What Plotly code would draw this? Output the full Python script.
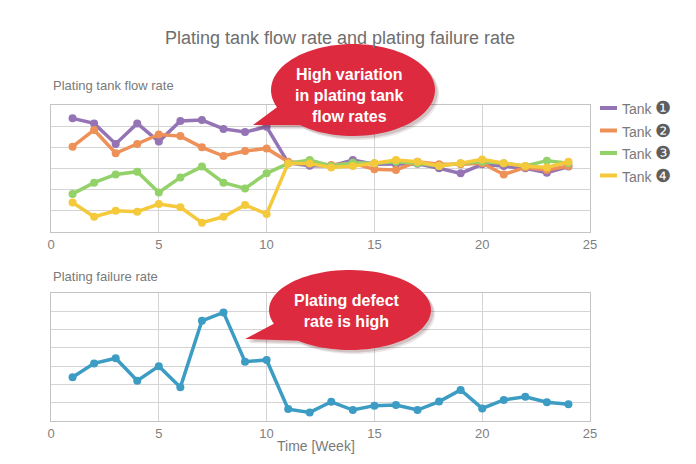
import numpy as np
import plotly.graph_objects as go

# ---------------- data ----------------
weeks = list(range(1, 25))
tank1 = [5.37, 5.13, 4.16, 5.13, 4.27, 5.24, 5.29, 4.87, 4.72, 4.97, 3.27, 3.13,
         3.12, 3.40, 3.20, 3.20, 3.22, 3.01, 2.77, 3.20, 3.12, 3.01, 2.80, 3.09]
tank2 = [4.03, 4.82, 3.72, 4.16, 4.61, 4.53, 4.00, 3.59, 3.83, 3.95, 3.32, 3.25,
         3.17, 3.25, 2.96, 2.93, 3.32, 3.20, 3.20, 3.25, 2.72, 3.05, 2.93, 3.12]
tank3 = [1.80, 2.33, 2.72, 2.85, 1.87, 2.58, 3.09, 2.33, 2.06, 2.77, 3.24, 3.40,
         3.12, 3.27, 3.25, 3.32, 3.25, 3.12, 3.25, 3.32, 3.25, 3.12, 3.37, 3.25]
tank4 = [1.39, 0.72, 1.00, 0.96, 1.32, 1.17, 0.44, 0.72, 1.28, 0.85, 3.24, 3.24,
         3.05, 3.12, 3.25, 3.40, 3.32, 3.12, 3.25, 3.43, 3.25, 3.12, 3.05, 3.32]
failure = [2.39, 3.15, 3.43, 2.20, 3.00, 1.84, 5.48, 5.94, 3.24, 3.34, 0.65, 0.47,
           1.05, 0.60, 0.84, 0.87, 0.60, 1.06, 1.70, 0.69, 1.15, 1.33, 1.03, 0.91]

tank_labels = ["Tank", "Tank", "Tank", "Tank"]
tank_marks = ["\u2776", "\u2777", "\u2778", "\u2779"]
tank_series = [tank1, tank2, tank3, tank4]
tank_colors = ["#9474b4", "#ee9158", "#93d169", "#f5c93c"]
failure_color = "#3c9cc3"

x_ticks = [0, 5, 10, 15, 20, 25]

# ---------------- layout geometry (pixels) ----------------
W, H = 696, 464
L, R, T, B = 51, 590, 105, 421


def px(xp):
    return (xp - L) / (R - L)


def py(yp):
    return (B - yp) / (B - T)


fig = go.Figure()

for lab, mark, ys, col in zip(tank_labels, tank_marks, tank_series, tank_colors):
    fig.add_trace(go.Scatter(x=weeks, y=ys, mode="lines+markers", showlegend=False,
                             name=f"{lab} {mark}",
                             line=dict(color=col, width=3.5),
                             marker=dict(color=col, size=8),
                             xaxis="x", yaxis="y"))

fig.add_trace(go.Scatter(x=weeks, y=failure, mode="lines+markers", showlegend=False,
                         name="Plating failure rate",
                         line=dict(color=failure_color, width=3.5),
                         marker=dict(color=failure_color, size=8),
                         xaxis="x2", yaxis="y2"))

axis_common = dict(showgrid=True, gridcolor="#d4d4d4", gridwidth=1,
                   showline=True, linecolor="#c4c4c4", linewidth=1, mirror=True,
                   zeroline=False, ticks="")
tickfont = dict(family="Liberation Sans, Arial", size=13, color="#808080")

fig.update_layout(
    width=W, height=H,
    margin=dict(l=L, r=W - R, t=T, b=H - B, pad=0),
    paper_bgcolor="white", plot_bgcolor="white",
    xaxis=dict(domain=[0, 1], range=[0, 25], tickvals=x_ticks, anchor="y",
               tickfont=tickfont, **axis_common),
    yaxis=dict(domain=[py(232), 1], range=[0, 6], dtick=1, showticklabels=False,
               anchor="x", **axis_common),
    xaxis2=dict(domain=[0, 1], range=[0, 25], tickvals=x_ticks, anchor="y2",
                tickfont=tickfont, **axis_common),
    yaxis2=dict(domain=[0, py(293)], range=[0, 7], dtick=1, showticklabels=False,
                anchor="x2", **axis_common),
    title=dict(text="Plating tank flow rate and plating failure rate",
               x=px(340), xanchor="center", y=1 - 38 / H, yanchor="middle",
               xref="paper", yref="container",
               font=dict(family="Liberation Sans, Arial", size=18, color="#6e6e6e")),
    showlegend=False,
)

# ---------------- legend (drawn manually) ----------------
legend_y = [108, 130.5, 153, 175.5]
for lab, mark, col, yy in zip(tank_labels, tank_marks, tank_colors, legend_y):
    fig.add_shape(type="line", x0=px(600), x1=px(617), y0=py(yy), y1=py(yy),
                  xref="paper", yref="paper", line=dict(color=col, width=4))
    fig.add_annotation(text=f"{lab} <span style='font-size:18px;color:#5e5e5e'>{mark}</span>",
                       x=px(620), y=py(yy), xref="paper", yref="paper",
                       showarrow=False, xanchor="left", yanchor="middle",
                       font=dict(family="Liberation Sans, Arial", size=14, color="#7a7a7a"))


# ---------------- speech bubbles ----------------
def bubble_path(cx, cy, rx, ry, a_start, a_end, tip, dx=0.0, dy=0.0):
    angles = np.radians(np.linspace(a_end, a_start + 360, 90))
    pts = [(cx + rx * np.cos(t) + dx, cy + ry * np.sin(t) + dy) for t in angles]
    pts.append((tip[0] + dx, tip[1] + dy))
    return "M " + " L ".join(f"{px(x):.5f},{py(y):.5f}" for x, y in pts) + " Z"


bubbles = [
    dict(cx=353, cy=90, rx=82, ry=46, a1=130, a2=158, tip=(253, 125)),
    dict(cx=350, cy=310, rx=81, ry=40, a1=130, a2=160, tip=(245, 339)),
]
for b in bubbles:
    for off, op in [(4, 0.10), (2.5, 0.15)]:
        fig.add_shape(type="path",
                      path=bubble_path(b["cx"], b["cy"], b["rx"], b["ry"], b["a1"], b["a2"],
                                       b["tip"], dx=off, dy=off),
                      xref="paper", yref="paper", layer="above",
                      fillcolor=f"rgba(60,0,0,{op})", line=dict(width=0))
    fig.add_shape(type="path",
                  path=bubble_path(b["cx"], b["cy"], b["rx"], b["ry"], b["a1"], b["a2"], b["tip"]),
                  xref="paper", yref="paper", layer="above",
                  fillcolor="#de2a3e", line=dict(width=0))

bold = dict(family="Liberation Sans, Arial", size=16, color="white")
fig.add_annotation(text="<b>High variation<br>in plating tank<br>flow rates</b>",
                   x=px(349), y=py(95), xref="paper", yref="paper", showarrow=False,
                   xanchor="center", yanchor="middle", font=bold, align="center")
fig.add_annotation(text="<b>Plating defect<br>rate is high</b>",
                   x=px(347), y=py(311), xref="paper", yref="paper", showarrow=False,
                   xanchor="center", yanchor="middle", font=bold, align="center")

sub = dict(family="Liberation Sans, Arial", size=13, color="#7a7a7a")
fig.add_annotation(text="Plating tank flow rate", x=px(51), y=py(86), xref="paper",
                   yref="paper", showarrow=False, xanchor="left", yanchor="middle", font=sub)
fig.add_annotation(text="Plating failure rate", x=px(51), y=py(276), xref="paper",
                   yref="paper", showarrow=False, xanchor="left", yanchor="middle", font=sub)
fig.add_annotation(text="Time [Week]", x=px(316), y=py(446), xref="paper",
                   yref="paper", showarrow=False, xanchor="center", yanchor="middle",
                   font=dict(family="Liberation Sans, Arial", size=14, color="#7a7a7a"))

fig.write_html("out.html")
